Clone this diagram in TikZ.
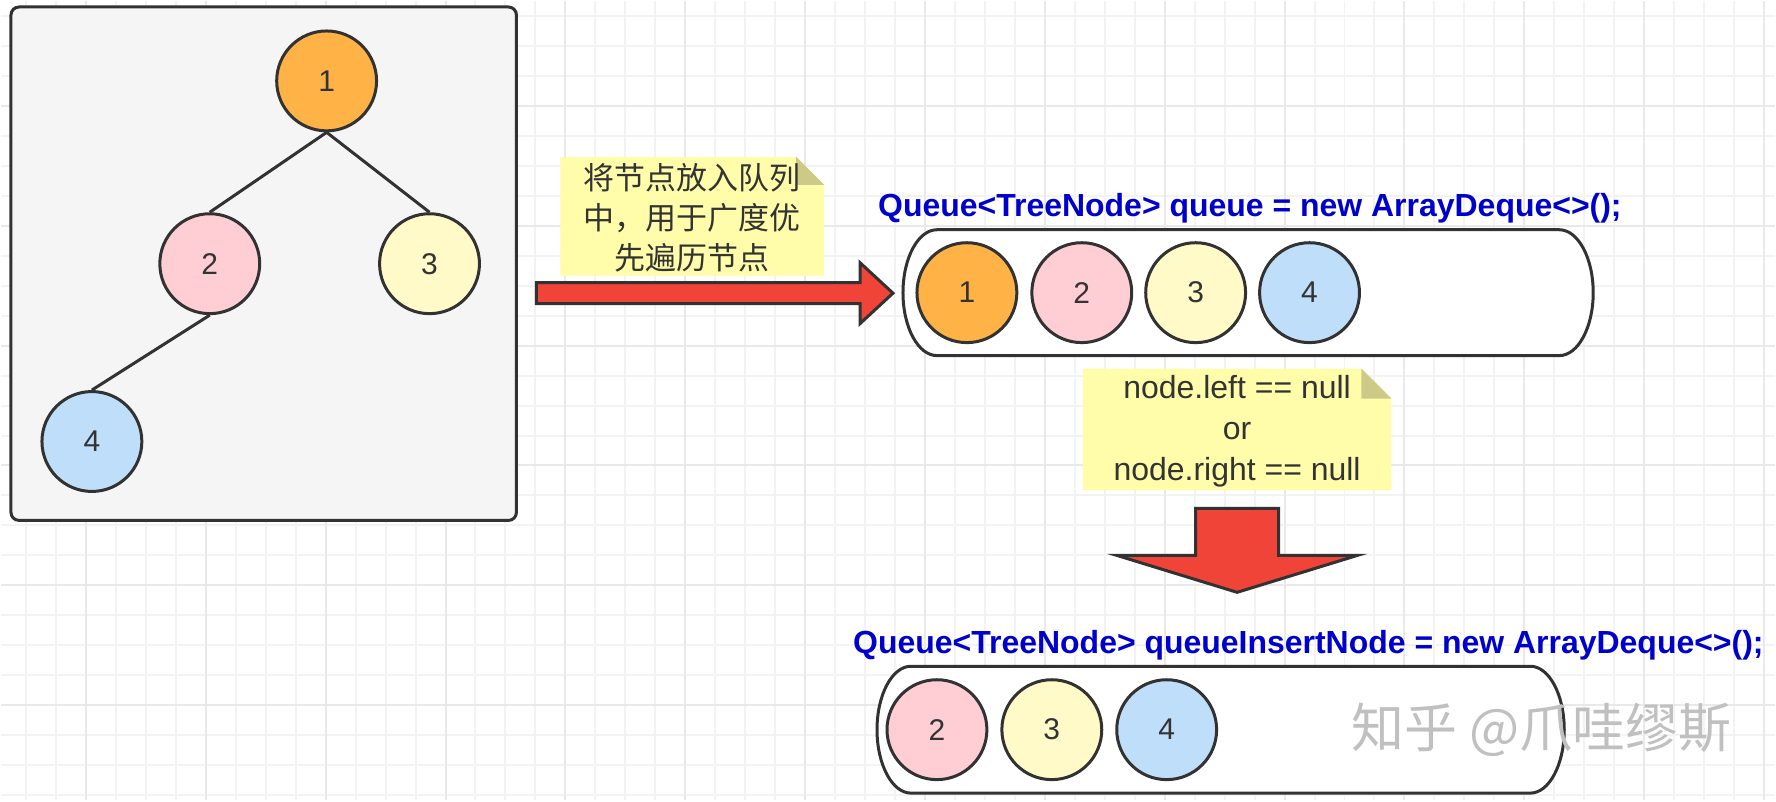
\documentclass[tikz,border=0pt]{standalone}
\usepackage{fontspec}
\setmainfont{Liberation Sans}
\newfontfamily\cjkfont{Noto Sans CJK SC}
\usepackage{tikz}
\usetikzlibrary{calc}
\definecolor{lineGray}{RGB}{50,50,50}
\definecolor{textGray}{RGB}{51,51,51}
\definecolor{boxGray}{RGB}{245,245,245}
\definecolor{orangeNode}{RGB}{255,179,71}
\definecolor{pinkNode}{RGB}{255,206,212}
\definecolor{yellowNode}{RGB}{255,250,200}
\definecolor{blueNode}{RGB}{190,222,250}
\definecolor{noteYellow}{RGB}{255,253,170}
\definecolor{foldOlive}{RGB}{204,202,134}
\definecolor{arrowRed}{RGB}{240,68,56}
\definecolor{codeBlue}{RGB}{0,0,204}
\definecolor{markGray}{RGB}{192,192,192}
\definecolor{gridMinor}{RGB}{243,243,243}
\definecolor{gridMajor}{RGB}{233,233,233}

\begin{document}
\begin{tikzpicture}[x=1pt,y=-1pt]

            \tikzstyle{treeNode} = [circle, draw=lineGray, line width=3pt, minimum size=100pt, inner sep=0pt, text=textGray, font=\fontsize{30}{34}\selectfont];
            \tikzstyle{treeEdge} = [draw=lineGray, line width=3pt];
            \tikzstyle{noteText} = [align=center, text=textGray, inner sep=0pt];
            \tikzstyle{fatArrow} = [fill=arrowRed, draw=lineGray, line width=3pt, line join=miter];
            \tikzstyle{queueBox} = [draw=lineGray, line width=3pt, fill=white];
            \tikzstyle{codeText} = [text=codeBlue, anchor=west, inner sep=0pt, font=\bfseries\fontsize{32}{38}\selectfont];

            % paper
            \fill[white] (0,0) rectangle (1776,800);
            \foreach \gx in {25,55,...,1765} \draw[gridMinor, line width=2pt] (\gx,0) -- (\gx,800);
            \foreach \gy in {15,45,...,795} \draw[gridMinor, line width=2pt] (0,\gy) -- (1776,\gy);
            \foreach \gx in {85,205,...,1765} \draw[gridMajor, line width=2pt] (\gx,0) -- (\gx,800);
            \foreach \gy in {105,225,...,795} \draw[gridMajor, line width=2pt] (0,\gy) -- (1776,\gy);

            % tree
            \draw[fill=boxGray, draw=lineGray, line width=3pt, rounded corners=8pt] (10,6) rectangle (516,520);

            \node[treeNode, fill=orangeNode] (n1) at (326,80) {1};
            \node[treeNode, fill=pinkNode] (n2) at (209,263) {2};
            \node[treeNode, fill=yellowNode] (n3) at (429,263) {3};
            \node[treeNode, fill=blueNode] (n4) at (91,441) {4};

            \draw[treeEdge] (n1.south) -- (n2.north);
            \draw[treeEdge] (n1.south) -- (n3.north);
            \draw[treeEdge] (n2.south) -- (n4.north);

            % note
            \coordinate (noteA) at (560,156);
            \coordinate (noteB) at (824,275);
            \fill[noteYellow] (noteA) -- ($(noteB|-noteA)+(-28,0)$) -- ($(noteB|-noteA)+(0,28)$) -- (noteB) -- (noteA|-noteB) -- cycle;
            \fill[foldOlive] ($(noteB|-noteA)+(-28,0)$) -- ($(noteB|-noteA)+(0,28)$) -- ($(noteB|-noteA)+(-28,28)$) -- cycle;
            \node[noteText, font=\cjkfont\fontsize{31}{40}\selectfont] (noteIn) at (692,217) {将节点放入队列\\中，用于广度优\\先遍历节点};

            \coordinate (arrowTail) at (536,292.5);
            \coordinate (arrowTip) at (893,292.5);
            \draw[fatArrow] ($(arrowTail)+(0,-10.5)$) -- ($(arrowTip)+(-33,-10.5)$) -- ($(arrowTip)+(-33,-30.5)$) -- (arrowTip) -- ($(arrowTip)+(-33,30.5)$) -- ($(arrowTip)+(-33,10.5)$) -- ($(arrowTail)+(0,10.5)$) -- cycle;

            % queue
            \node[codeText] (queueCode) at (878,207) {Queue<TreeNode> queue = new ArrayDeque<>();};
            \draw[queueBox] (937,229) -- (1560,229) arc[start angle=-90, end angle=90, x radius=34, y radius=63] -- (937,355) arc[start angle=90, end angle=270, x radius=34, y radius=63] -- cycle;

            \node[treeNode, fill=orangeNode] (q1) at (967,292) {1};
            \node[treeNode, fill=pinkNode] (q2) at (1082,292) {2};
            \node[treeNode, fill=yellowNode] (q3) at (1196,292) {3};
            \node[treeNode, fill=blueNode] (q4) at (1310,292) {4};

            % condition
            \coordinate (condA) at (1083,368);
            \coordinate (condB) at (1392,490);
            \fill[noteYellow] (condA) -- ($(condB|-condA)+(-30,0)$) -- ($(condB|-condA)+(0,30)$) -- (condB) -- (condA|-condB) -- cycle;
            \fill[foldOlive] ($(condB|-condA)+(-30,0)$) -- ($(condB|-condA)+(0,30)$) -- ($(condB|-condA)+(-30,30)$) -- cycle;
            \node[noteText, font=\fontsize{32}{41}\selectfont] (condIn) at (1237.5,431) {node.left == null\\or\\node.right == null};

            \coordinate (downTail) at (1237.5,508);
            \coordinate (downTip) at (1237.5,592);
            \draw[fatArrow] ($(downTail)+(-41.5,0)$) -- ($(downTail)+(41.5,0)$) -- ($(downTip)+(41.5,-37)$) -- ($(downTip)+(120.5,-37)$) -- (downTip) -- ($(downTip)+(-120.5,-37)$) -- ($(downTip)+(-41.5,-37)$) -- cycle;

            % insert queue
            \node[codeText] (insertCode) at (853,645) {Queue<TreeNode> queueInsertNode = new ArrayDeque<>();};
            \draw[queueBox] (911,666) -- (1531,666) arc[start angle=-90, end angle=90, x radius=34, y radius=63.5] -- (911,793) arc[start angle=90, end angle=270, x radius=34, y radius=63.5] -- cycle;

            \node[treeNode, fill=pinkNode] (r2) at (937,729.5) {2};
            \node[treeNode, fill=yellowNode] (r3) at (1052,729.5) {3};
            \node[treeNode, fill=blueNode] (r4) at (1167,729.5) {4};

            \node[text=markGray, anchor=west, inner sep=0pt, font=\cjkfont\fontsize{53}{60}\selectfont] (mark) at (1352,730) {知乎 @爪哇缪斯};
          \end{tikzpicture}
\end{document}
